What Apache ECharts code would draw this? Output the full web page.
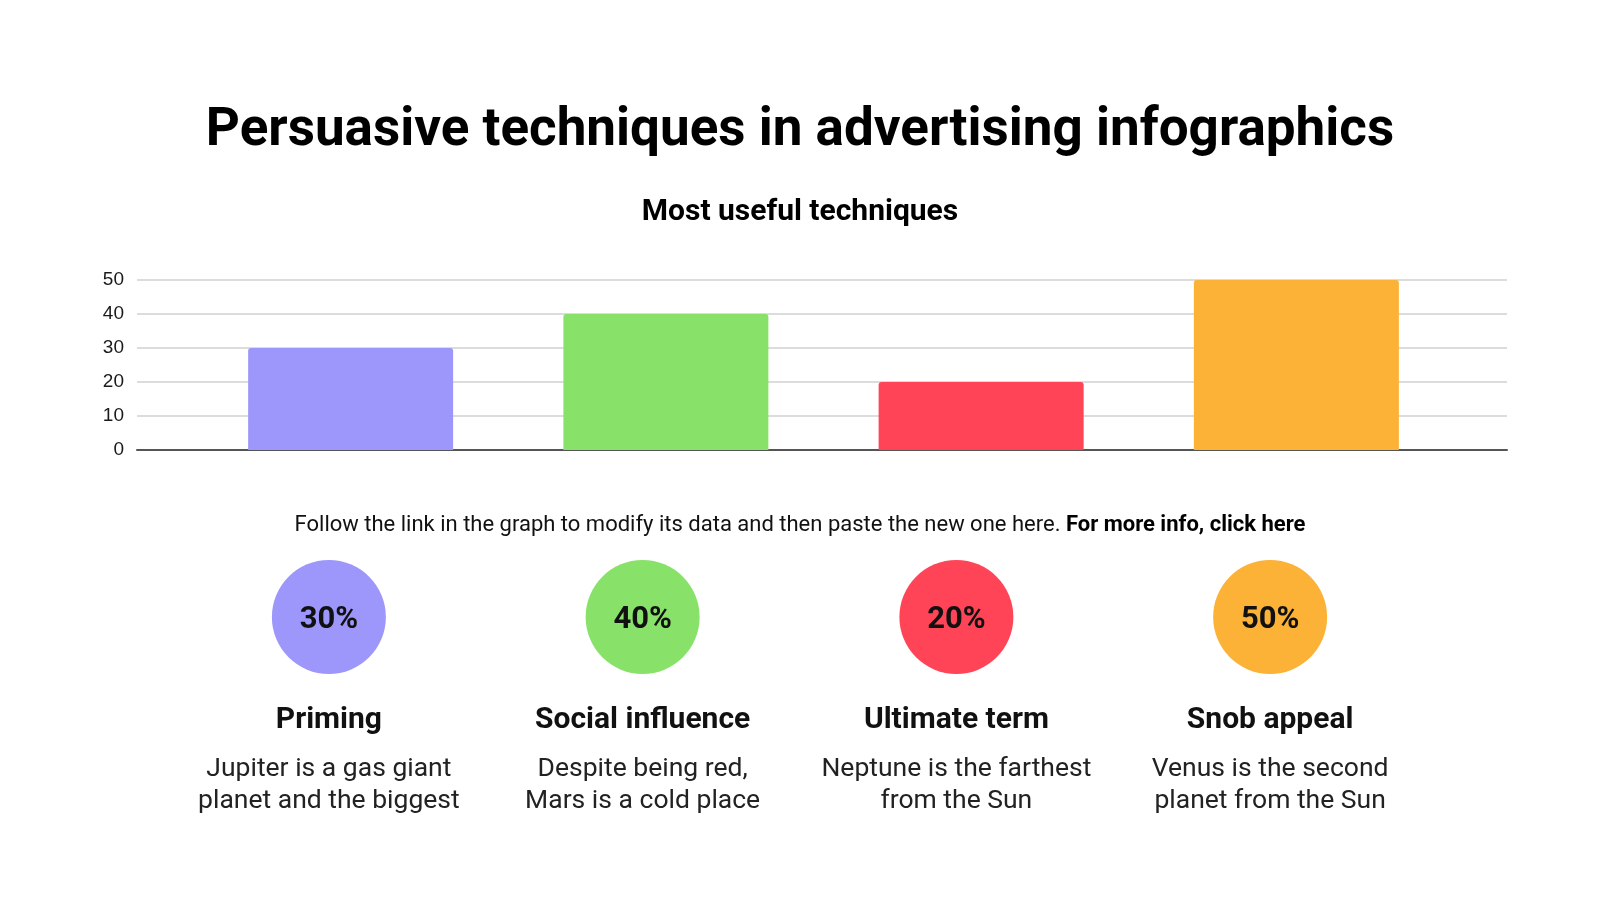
<!DOCTYPE HTML>
<html>
<head>
    <title>Persuasive techniques in advertising infographics</title>
    <script src="https://cdn.jsdelivr.net/npm/echarts@6/dist/echarts.min.js"></script>
    <style>
        html, body { margin: 0; padding: 0; background: #fff; }
        #main { width: 1600px; height: 900px; }
    </style>
</head>
<body>
<div id="main"></div>
<script type="text/javascript">

    // data
    var techniques = ['Priming', 'Social influence', 'Ultimate term', 'Snob appeal'];
    var usefulness = [30, 40, 20, 50];
    var blurbs = [
        ['Jupiter is a gas giant', 'planet and the biggest'],
        ['Despite being red,', 'Mars is a cold place'],
        ['Neptune is the farthest', 'from the Sun'],
        ['Venus is the second', 'planet from the Sun']
    ];
    var barColors = ['#9e97fb', '#88e26a', '#ff4458', '#fbb236'];

    // no condensed face is installed, Roboto bold is the closest fit
    var heavy = "Roboto, 'Liberation Sans', sans-serif";

    function buildChart() {
        var myChart = echarts.init(document.getElementById('main'));

        var barData = [];
        var dotData = [];
        for (var i = 0; i < techniques.length; i++) {
            barData.push({ value: usefulness[i], itemStyle: { color: barColors[i] } });
            dotData.push({ value: [i, 0], itemStyle: { color: barColors[i], opacity: 1 } });
        }

        var option = {
            animation: false,
            backgroundColor: '#ffffff',
            title: [
                {
                    text: 'Persuasive techniques in advertising infographics',
                    left: 'center', top: 99, padding: 0,
                    textStyle: { fontFamily: heavy, fontWeight: 'bold', fontSize: 53, lineHeight: 66, color: '#000' }
                },
                {
                    text: 'Most useful techniques',
                    left: 'center', top: 194, padding: 0,
                    textStyle: { fontFamily: heavy, fontWeight: 'bold', fontSize: 30, lineHeight: 36, color: '#000' }
                },
                {
                    text: '{n|Follow the link in the graph to modify its data and then paste the new one here. }{b|For more info, click here}',
                    left: 'center', top: 511, padding: 0,
                    textStyle: {
                        rich: {
                            n: { fontFamily: 'Roboto', fontSize: 22, fontWeight: 'normal', lineHeight: 28, color: '#111' },
                            b: { fontFamily: 'Roboto', fontSize: 22, fontWeight: 'bold', lineHeight: 28, color: '#000' }
                        }
                    }
                }
            ],
            grid: [
                { left: 137, right: 93, top: 280, bottom: 450 },
                { left: 193, right: 146, top: 280, bottom: 450 },
                { left: 172, right: 173, top: 560, height: 114 }
            ],
            xAxis: [
                {
                    gridIndex: 0, type: 'category', data: [''],
                    axisTick: { show: false }, axisLabel: { show: false },
                    axisLine: { lineStyle: { color: '#555', width: 2 } }
                },
                { gridIndex: 1, type: 'category', data: techniques, show: false },
                { gridIndex: 2, type: 'category', data: techniques, show: false }
            ],
            yAxis: [
                {
                    gridIndex: 0, type: 'value', min: 0, max: 50, interval: 10,
                    axisLine: { show: false }, axisTick: { show: false },
                    axisLabel: {
                        color: '#1a1a1a', fontSize: 19, lineHeight: 20, fontFamily: 'Liberation Sans', margin: 13,
                        showMinLabel: true, showMaxLabel: true
                    },
                    splitLine: { lineStyle: { color: '#d0d0d0', width: 1.5 } }
                },
                { gridIndex: 1, type: 'value', min: 0, max: 50, show: false },
                { gridIndex: 2, type: 'category', data: [''], show: false }
            ],
            series: [
                {
                    type: 'bar', xAxisIndex: 1, yAxisIndex: 1,
                    barWidth: 205, silent: true,
                    itemStyle: { borderRadius: [3, 3, 0, 0] },
                    data: barData
                },
                {
                    type: 'scatter', xAxisIndex: 2, yAxisIndex: 2,
                    symbolSize: 114, silent: true,
                    data: dotData,
                    label: {
                        show: true, position: 'inside', offset: [0, 3],
                        formatter: function (p) { return usefulness[p.dataIndex] + '%'; },
                        fontFamily: heavy, fontWeight: 'bold', fontSize: 31, color: '#111'
                    }
                },
                {
                    type: 'scatter', xAxisIndex: 2, yAxisIndex: 2,
                    symbolSize: 114, silent: true,
                    itemStyle: { color: 'rgba(0,0,0,0)', opacity: 1 },
                    data: dotData.map(function (d) { return { value: d.value }; }),
                    label: {
                        show: true, position: 'bottom', distance: 35, align: 'center',
                        formatter: function (p) {
                            var b = blurbs[p.dataIndex];
                            return '{h|' + techniques[p.dataIndex] + '}\n{d|' + b[0] + '}\n{d|' + b[1] + '}';
                        },
                        rich: {
                            h: { fontFamily: heavy, fontWeight: 'bold', fontSize: 30, lineHeight: 44, color: '#111', padding: [0, 0, 21, 0] },
                            d: { fontFamily: 'Roboto', fontSize: 26.5, lineHeight: 32, color: '#222' }
                        }
                    }
                }
            ]
        };

        myChart.setOption(option);
    }

    buildChart();

</script>
</body>
</html>
